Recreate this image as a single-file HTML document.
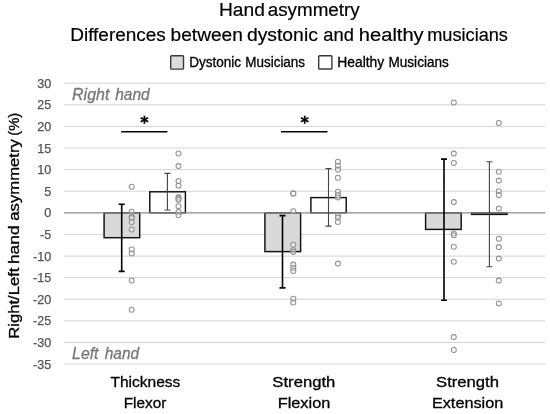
<!DOCTYPE html>
<html><head><meta charset="utf-8"><title>Hand asymmetry</title>
<style>
html,body{margin:0;padding:0;background:#fff;}
body{width:550px;height:414px;overflow:hidden;}
svg{display:block;font-family:"Liberation Sans",sans-serif;}
</style></head><body>
<svg width="550" height="414" viewBox="0 0 550 414">
<rect width="550" height="414" fill="#ffffff"/>
<line x1="64" x2="545.2" y1="364.1" y2="364.1" stroke="#d4d4d4" stroke-width="1"/>
<line x1="64" x2="545.2" y1="342.5" y2="342.5" stroke="#d4d4d4" stroke-width="1"/>
<line x1="64" x2="545.2" y1="320.9" y2="320.9" stroke="#d4d4d4" stroke-width="1"/>
<line x1="64" x2="545.2" y1="299.2" y2="299.2" stroke="#d4d4d4" stroke-width="1"/>
<line x1="64" x2="545.2" y1="277.6" y2="277.6" stroke="#d4d4d4" stroke-width="1"/>
<line x1="64" x2="545.2" y1="256.1" y2="256.1" stroke="#d4d4d4" stroke-width="1"/>
<line x1="64" x2="545.2" y1="234.4" y2="234.4" stroke="#d4d4d4" stroke-width="1"/>
<line x1="64" x2="545.2" y1="191.2" y2="191.2" stroke="#d4d4d4" stroke-width="1"/>
<line x1="64" x2="545.2" y1="169.6" y2="169.6" stroke="#d4d4d4" stroke-width="1"/>
<line x1="64" x2="545.2" y1="148.0" y2="148.0" stroke="#d4d4d4" stroke-width="1"/>
<line x1="64" x2="545.2" y1="126.4" y2="126.4" stroke="#d4d4d4" stroke-width="1"/>
<line x1="64" x2="545.2" y1="104.8" y2="104.8" stroke="#d4d4d4" stroke-width="1"/>
<line x1="64" x2="545.2" y1="83.2" y2="83.2" stroke="#d4d4d4" stroke-width="1"/>
<text x="51.2" y="368.5" font-size="12.6" fill="#555" stroke="#555" stroke-width="0.25" text-anchor="end">-35</text>
<text x="51.2" y="346.9" font-size="12.6" fill="#555" stroke="#555" stroke-width="0.25" text-anchor="end">-30</text>
<text x="51.2" y="325.3" font-size="12.6" fill="#555" stroke="#555" stroke-width="0.25" text-anchor="end">-25</text>
<text x="51.2" y="303.7" font-size="12.6" fill="#555" stroke="#555" stroke-width="0.25" text-anchor="end">-20</text>
<text x="51.2" y="282.1" font-size="12.6" fill="#555" stroke="#555" stroke-width="0.25" text-anchor="end">-15</text>
<text x="51.2" y="260.5" font-size="12.6" fill="#555" stroke="#555" stroke-width="0.25" text-anchor="end">-10</text>
<text x="51.2" y="238.9" font-size="12.6" fill="#555" stroke="#555" stroke-width="0.25" text-anchor="end">-5</text>
<text x="51.2" y="217.3" font-size="12.6" fill="#555" stroke="#555" stroke-width="0.25" text-anchor="end">0</text>
<text x="51.2" y="195.7" font-size="12.6" fill="#555" stroke="#555" stroke-width="0.25" text-anchor="end">5</text>
<text x="51.2" y="174.1" font-size="12.6" fill="#555" stroke="#555" stroke-width="0.25" text-anchor="end">10</text>
<text x="51.2" y="152.5" font-size="12.6" fill="#555" stroke="#555" stroke-width="0.25" text-anchor="end">15</text>
<text x="51.2" y="130.9" font-size="12.6" fill="#555" stroke="#555" stroke-width="0.25" text-anchor="end">20</text>
<text x="51.2" y="109.3" font-size="12.6" fill="#555" stroke="#555" stroke-width="0.25" text-anchor="end">25</text>
<text x="51.2" y="87.7" font-size="12.6" fill="#555" stroke="#555" stroke-width="0.25" text-anchor="end">30</text>
<rect x="104.1" y="212.8" width="35.6" height="24.9" fill="#d9d9d9" stroke="#111" stroke-width="1.45"/>
<rect x="149.8" y="191.8" width="35.6" height="21.0" fill="#ffffff" stroke="#111" stroke-width="1.45"/>
<rect x="264.9" y="212.8" width="35.7" height="38.8" fill="#d9d9d9" stroke="#111" stroke-width="1.45"/>
<rect x="310.9" y="197.6" width="35.3" height="15.2" fill="#ffffff" stroke="#111" stroke-width="1.45"/>
<rect x="425.6" y="212.8" width="35.6" height="16.6" fill="#d9d9d9" stroke="#111" stroke-width="1.45"/>
<rect x="471.6" y="212.8" width="35.5" height="1.6" fill="#ffffff" stroke="#111" stroke-width="1.45"/>
<line x1="64" x2="545.2" y1="212.85" y2="212.85" stroke="#8c8c8c" stroke-width="1.2"/>
<circle cx="131.7" cy="186.7" r="2.5" fill="#fff" fill-opacity="0.3" stroke="#929292" stroke-width="1.05"/>
<circle cx="131.7" cy="211.8" r="2.5" fill="#fff" fill-opacity="0.3" stroke="#929292" stroke-width="1.05"/>
<circle cx="131.7" cy="216.8" r="2.5" fill="#fff" fill-opacity="0.3" stroke="#929292" stroke-width="1.05"/>
<circle cx="131.7" cy="218.1" r="2.5" fill="#fff" fill-opacity="0.3" stroke="#929292" stroke-width="1.05"/>
<circle cx="131.7" cy="221.9" r="2.5" fill="#fff" fill-opacity="0.3" stroke="#929292" stroke-width="1.05"/>
<circle cx="131.7" cy="229.4" r="2.5" fill="#fff" fill-opacity="0.3" stroke="#929292" stroke-width="1.05"/>
<circle cx="131.7" cy="249.5" r="2.5" fill="#fff" fill-opacity="0.3" stroke="#929292" stroke-width="1.05"/>
<circle cx="131.7" cy="253.5" r="2.5" fill="#fff" fill-opacity="0.3" stroke="#929292" stroke-width="1.05"/>
<circle cx="131.7" cy="280.4" r="2.5" fill="#fff" fill-opacity="0.3" stroke="#929292" stroke-width="1.05"/>
<circle cx="131.7" cy="309.8" r="2.5" fill="#fff" fill-opacity="0.3" stroke="#929292" stroke-width="1.05"/>
<circle cx="178.5" cy="153.5" r="2.5" fill="#fff" fill-opacity="0.3" stroke="#929292" stroke-width="1.05"/>
<circle cx="178.5" cy="166.1" r="2.5" fill="#fff" fill-opacity="0.3" stroke="#929292" stroke-width="1.05"/>
<circle cx="178.5" cy="180.9" r="2.5" fill="#fff" fill-opacity="0.3" stroke="#929292" stroke-width="1.05"/>
<circle cx="178.5" cy="185.8" r="2.5" fill="#fff" fill-opacity="0.3" stroke="#929292" stroke-width="1.05"/>
<circle cx="178.5" cy="197.1" r="2.5" fill="#fff" fill-opacity="0.3" stroke="#929292" stroke-width="1.05"/>
<circle cx="178.5" cy="198.6" r="2.5" fill="#fff" fill-opacity="0.3" stroke="#929292" stroke-width="1.05"/>
<circle cx="178.5" cy="199.9" r="2.5" fill="#fff" fill-opacity="0.3" stroke="#929292" stroke-width="1.05"/>
<circle cx="178.5" cy="206.2" r="2.5" fill="#fff" fill-opacity="0.3" stroke="#929292" stroke-width="1.05"/>
<circle cx="178.5" cy="211.9" r="2.5" fill="#fff" fill-opacity="0.3" stroke="#929292" stroke-width="1.05"/>
<circle cx="178.5" cy="215.3" r="2.5" fill="#fff" fill-opacity="0.3" stroke="#929292" stroke-width="1.05"/>
<circle cx="293.3" cy="193.2" r="2.5" fill="#fff" fill-opacity="0.3" stroke="#929292" stroke-width="1.05"/>
<circle cx="293.3" cy="193.8" r="2.5" fill="#fff" fill-opacity="0.3" stroke="#929292" stroke-width="1.05"/>
<circle cx="293.3" cy="211.3" r="2.5" fill="#fff" fill-opacity="0.3" stroke="#929292" stroke-width="1.05"/>
<circle cx="293.3" cy="244.7" r="2.5" fill="#fff" fill-opacity="0.3" stroke="#929292" stroke-width="1.05"/>
<circle cx="293.3" cy="250.3" r="2.5" fill="#fff" fill-opacity="0.3" stroke="#929292" stroke-width="1.05"/>
<circle cx="293.3" cy="252" r="2.5" fill="#fff" fill-opacity="0.3" stroke="#929292" stroke-width="1.05"/>
<circle cx="293.3" cy="264.6" r="2.5" fill="#fff" fill-opacity="0.3" stroke="#929292" stroke-width="1.05"/>
<circle cx="293.3" cy="268" r="2.5" fill="#fff" fill-opacity="0.3" stroke="#929292" stroke-width="1.05"/>
<circle cx="293.3" cy="270.9" r="2.5" fill="#fff" fill-opacity="0.3" stroke="#929292" stroke-width="1.05"/>
<circle cx="293.3" cy="298.8" r="2.5" fill="#fff" fill-opacity="0.3" stroke="#929292" stroke-width="1.05"/>
<circle cx="293.3" cy="302.4" r="2.5" fill="#fff" fill-opacity="0.3" stroke="#929292" stroke-width="1.05"/>
<circle cx="337.9" cy="161.8" r="2.5" fill="#fff" fill-opacity="0.3" stroke="#929292" stroke-width="1.05"/>
<circle cx="337.9" cy="165.7" r="2.5" fill="#fff" fill-opacity="0.3" stroke="#929292" stroke-width="1.05"/>
<circle cx="337.9" cy="169.6" r="2.5" fill="#fff" fill-opacity="0.3" stroke="#929292" stroke-width="1.05"/>
<circle cx="337.9" cy="177.8" r="2.5" fill="#fff" fill-opacity="0.3" stroke="#929292" stroke-width="1.05"/>
<circle cx="337.9" cy="191.8" r="2.5" fill="#fff" fill-opacity="0.3" stroke="#929292" stroke-width="1.05"/>
<circle cx="337.9" cy="195" r="2.5" fill="#fff" fill-opacity="0.3" stroke="#929292" stroke-width="1.05"/>
<circle cx="337.9" cy="197.5" r="2.5" fill="#fff" fill-opacity="0.3" stroke="#929292" stroke-width="1.05"/>
<circle cx="337.9" cy="215.8" r="2.5" fill="#fff" fill-opacity="0.3" stroke="#929292" stroke-width="1.05"/>
<circle cx="337.9" cy="217.6" r="2.5" fill="#fff" fill-opacity="0.3" stroke="#929292" stroke-width="1.05"/>
<circle cx="337.9" cy="221.9" r="2.5" fill="#fff" fill-opacity="0.3" stroke="#929292" stroke-width="1.05"/>
<circle cx="337.9" cy="263.6" r="2.5" fill="#fff" fill-opacity="0.3" stroke="#929292" stroke-width="1.05"/>
<circle cx="453.8" cy="102.4" r="2.5" fill="#fff" fill-opacity="0.3" stroke="#929292" stroke-width="1.05"/>
<circle cx="453.8" cy="153.6" r="2.5" fill="#fff" fill-opacity="0.3" stroke="#929292" stroke-width="1.05"/>
<circle cx="453.8" cy="162.9" r="2.5" fill="#fff" fill-opacity="0.3" stroke="#929292" stroke-width="1.05"/>
<circle cx="453.8" cy="202.1" r="2.5" fill="#fff" fill-opacity="0.3" stroke="#929292" stroke-width="1.05"/>
<circle cx="453.8" cy="233.5" r="2.5" fill="#fff" fill-opacity="0.3" stroke="#929292" stroke-width="1.05"/>
<circle cx="453.8" cy="235.3" r="2.5" fill="#fff" fill-opacity="0.3" stroke="#929292" stroke-width="1.05"/>
<circle cx="453.8" cy="246.8" r="2.5" fill="#fff" fill-opacity="0.3" stroke="#929292" stroke-width="1.05"/>
<circle cx="453.8" cy="261.7" r="2.5" fill="#fff" fill-opacity="0.3" stroke="#929292" stroke-width="1.05"/>
<circle cx="453.8" cy="337.1" r="2.5" fill="#fff" fill-opacity="0.3" stroke="#929292" stroke-width="1.05"/>
<circle cx="453.8" cy="349.9" r="2.5" fill="#fff" fill-opacity="0.3" stroke="#929292" stroke-width="1.05"/>
<circle cx="498.8" cy="123" r="2.5" fill="#fff" fill-opacity="0.3" stroke="#929292" stroke-width="1.05"/>
<circle cx="498.8" cy="171.7" r="2.5" fill="#fff" fill-opacity="0.3" stroke="#929292" stroke-width="1.05"/>
<circle cx="498.8" cy="180.6" r="2.5" fill="#fff" fill-opacity="0.3" stroke="#929292" stroke-width="1.05"/>
<circle cx="498.8" cy="191.3" r="2.5" fill="#fff" fill-opacity="0.3" stroke="#929292" stroke-width="1.05"/>
<circle cx="498.8" cy="195.1" r="2.5" fill="#fff" fill-opacity="0.3" stroke="#929292" stroke-width="1.05"/>
<circle cx="498.8" cy="208.4" r="2.5" fill="#fff" fill-opacity="0.3" stroke="#929292" stroke-width="1.05"/>
<circle cx="498.8" cy="238.8" r="2.5" fill="#fff" fill-opacity="0.3" stroke="#929292" stroke-width="1.05"/>
<circle cx="498.8" cy="247.1" r="2.5" fill="#fff" fill-opacity="0.3" stroke="#929292" stroke-width="1.05"/>
<circle cx="498.8" cy="258.6" r="2.5" fill="#fff" fill-opacity="0.3" stroke="#929292" stroke-width="1.05"/>
<circle cx="498.8" cy="280.6" r="2.5" fill="#fff" fill-opacity="0.3" stroke="#929292" stroke-width="1.05"/>
<circle cx="498.8" cy="303.4" r="2.5" fill="#fff" fill-opacity="0.3" stroke="#929292" stroke-width="1.05"/>
<path d="M118.7 204.3H124.7M118.7 271.4H124.7M121.7 204.3V271.4" stroke="#000" stroke-width="1.6" fill="none"/>
<path d="M164.4 173.4H170.4M164.4 210H170.4M167.4 173.4V210" stroke="#444" stroke-width="1.1" fill="none"/>
<path d="M279.5 215.6H285.5M279.5 287.9H285.5M282.5 215.6V287.9" stroke="#000" stroke-width="1.6" fill="none"/>
<path d="M325.5 168.6H331.5M325.5 226.1H331.5M328.5 168.6V226.1" stroke="#444" stroke-width="1.1" fill="none"/>
<path d="M441 159.1H447M441 300.2H447M444 159.1V300.2" stroke="#000" stroke-width="1.6" fill="none"/>
<path d="M486.4 161.7H492.4M486.4 266.7H492.4M489.4 161.7V266.7" stroke="#444" stroke-width="1.1" fill="none"/>
<line x1="121.2" x2="167.4" y1="131.7" y2="131.7" stroke="#000" stroke-width="1.6"/>
<text x="140.34" y="127.9" font-size="16" font-family="DejaVu Sans, sans-serif" font-weight="bold" fill="#000" stroke="#000" stroke-width="0.35">*</text>
<line x1="281" x2="327.5" y1="131.7" y2="131.7" stroke="#000" stroke-width="1.6"/>
<text x="300.44" y="127.9" font-size="16" font-family="DejaVu Sans, sans-serif" font-weight="bold" fill="#000" stroke="#000" stroke-width="0.35">*</text>
<text y="15.7" font-size="18" fill="#000" stroke="#000" stroke-width="0.2"><tspan x="218.96" textLength="45.90" lengthAdjust="spacingAndGlyphs">Hand</tspan> <tspan x="267.75" textLength="91.94" lengthAdjust="spacingAndGlyphs">asymmetry</tspan></text>
<text y="40.5" font-size="18" fill="#000" stroke="#000" stroke-width="0.2"><tspan x="70.28" textLength="95.57" lengthAdjust="spacingAndGlyphs">Differences</tspan> <tspan x="170.56" textLength="72.30" lengthAdjust="spacingAndGlyphs">between</tspan> <tspan x="246.93" textLength="70.93" lengthAdjust="spacingAndGlyphs">dystonic</tspan> <tspan x="323.37" textLength="30.59" lengthAdjust="spacingAndGlyphs">and</tspan> <tspan x="358.89" textLength="64.80" lengthAdjust="spacingAndGlyphs">healthy</tspan> <tspan x="427.23" textLength="80.72" lengthAdjust="spacingAndGlyphs">musicians</tspan></text>
<text y="67.3" font-size="13.8" fill="#000" stroke="#000" stroke-width="0.3"><tspan x="189.22" textLength="51.92" lengthAdjust="spacingAndGlyphs">Dystonic</tspan> <tspan x="245.22" textLength="59.86" lengthAdjust="spacingAndGlyphs">Musicians</tspan> <tspan x="337.19" textLength="47.02" lengthAdjust="spacingAndGlyphs">Healthy</tspan> <tspan x="388.52" textLength="60.27" lengthAdjust="spacingAndGlyphs">Musicians</tspan></text>
<text y="387.0" font-size="15" fill="#000" stroke="#000" stroke-width="0.3"><tspan x="110.49" textLength="69.90" lengthAdjust="spacingAndGlyphs">Thickness</tspan></text>
<text y="408.4" font-size="15" fill="#000" stroke="#000" stroke-width="0.3"><tspan x="123.67" textLength="42.71" lengthAdjust="spacingAndGlyphs">Flexor</tspan></text>
<text y="387.0" font-size="15" fill="#000" stroke="#000" stroke-width="0.3"><tspan x="272.37" textLength="62.94" lengthAdjust="spacingAndGlyphs">Strength</tspan></text>
<text y="408.4" font-size="15" fill="#000" stroke="#000" stroke-width="0.3"><tspan x="277.69" textLength="52.65" lengthAdjust="spacingAndGlyphs">Flexion</tspan></text>
<text y="387.0" font-size="15" fill="#000" stroke="#000" stroke-width="0.3"><tspan x="436.07" textLength="62.94" lengthAdjust="spacingAndGlyphs">Strength</tspan></text>
<text y="408.4" font-size="15" fill="#000" stroke="#000" stroke-width="0.3"><tspan x="431.90" textLength="71.40" lengthAdjust="spacingAndGlyphs">Extension</tspan></text>
<text y="99.6" font-size="15.8" fill="#787878" stroke="#787878" stroke-width="0.3" font-style="italic"><tspan x="72.12" textLength="37.21" lengthAdjust="spacingAndGlyphs">Right</tspan> <tspan x="115.19" textLength="34.52" lengthAdjust="spacingAndGlyphs">hand</tspan></text>
<text y="359.0" font-size="15.8" fill="#787878" stroke="#787878" stroke-width="0.3" font-style="italic"><tspan x="72.13" textLength="26.37" lengthAdjust="spacingAndGlyphs">Left</tspan> <tspan x="104.69" textLength="34.42" lengthAdjust="spacingAndGlyphs">hand</tspan></text>
<text y="0" font-size="15" fill="#000" stroke="#000" stroke-width="0.3" transform="translate(19.3 0) rotate(-90)"><tspan x="-338.73" textLength="71.10" lengthAdjust="spacingAndGlyphs">Right/Left</tspan> <tspan x="-264.12" textLength="38.85" lengthAdjust="spacingAndGlyphs">hand</tspan> <tspan x="-220.67" textLength="81.45" lengthAdjust="spacingAndGlyphs">asymmetry</tspan> <tspan x="-135.79" textLength="23.06" lengthAdjust="spacingAndGlyphs">(%)</tspan></text>
<rect x="170.7" y="55.8" width="12.8" height="13.3" rx="0.8" fill="#dcdcdc" stroke="#3a3a3a" stroke-width="1.4"/>
<rect x="318.7" y="55.8" width="13.2" height="13.2" rx="0.8" fill="#fff" stroke="#3a3a3a" stroke-width="1.4"/>
</svg>
</body></html>
